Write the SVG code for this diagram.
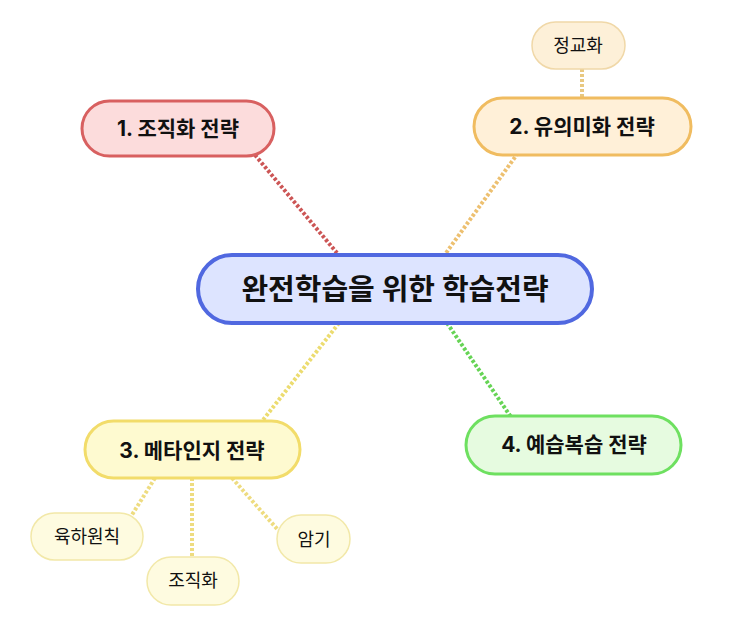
<svg xmlns="http://www.w3.org/2000/svg" width="743" height="626" viewBox="0 0 743 626">
<style>
text{font-family:Inter,"Noto Sans CJK KR",sans-serif;fill:#111;text-anchor:middle;dominant-baseline:central}
.m{font-weight:700;font-size:21px}
.s{font-size:18px}
.c line{stroke-width:4;stroke-dasharray:3 2}
</style>
<rect width="743" height="626" fill="#fff"/>
<g class="c" id="connectors">
<line x1="255" y1="155" x2="337" y2="253" stroke="#cc5555"/>
<line x1="518" y1="153" x2="446" y2="253" stroke="#edc070"/>
<line x1="339" y1="323" x2="263" y2="420" stroke="#ecdc70"/>
<line x1="447" y1="323" x2="511" y2="417" stroke="#66d455"/>
<line x1="582" y1="69" x2="582" y2="97" stroke="#e8c880"/>
<line x1="155" y1="478" x2="130" y2="518" stroke="#eedc80"/>
<line x1="192" y1="478" x2="192" y2="557" stroke="#eedc80"/>
<line x1="232" y1="478" x2="278" y2="530" stroke="#eedc80"/>
</g>
<g id="center"><rect x="198" y="255" width="394" height="68" rx="34" fill="#dde4ff" stroke="#5068e0" stroke-width="4"/><text x="395" y="289" style="font-weight:700;font-size:29px">완전학습을 위한 학습전략</text></g>
<g id="n1"><rect x="82" y="101" width="192" height="55" rx="27.5" fill="#fcdcdc" stroke="#d86060" stroke-width="3"/><text class="m" x="178" y="128">1. 조직화 전략</text></g>
<g id="n2"><rect x="474" y="98" width="217" height="57" rx="28.5" fill="#fff0d8" stroke="#f0bc60" stroke-width="3"/><text class="m" x="582" y="126">2. 유의미화 전략</text></g>
<g id="n2a"><rect x="532" y="22" width="93" height="47" rx="23.5" fill="#fdf0d8" stroke="#f0d8a8" stroke-width="1.5"/><text class="s" x="578" y="45">정교화</text></g>
<g id="n3"><rect x="85" y="421" width="215" height="57" rx="28.5" fill="#fefad0" stroke="#f2dc6a" stroke-width="3"/><text class="m" x="192" y="450">3. 메타인지 전략</text></g>
<g id="n4"><rect x="466" y="416" width="215" height="58" rx="29" fill="#e6fbe0" stroke="#6ee060" stroke-width="3"/><text class="m" x="574" y="444">4. 예습복습 전략</text></g>
<g id="n3a"><rect x="31" y="513" width="112" height="47" rx="23.5" fill="#fefbe0" stroke="#f2e8a8" stroke-width="1.5"/><text class="s" x="87" y="536">육하원칙</text></g>
<g id="n3b"><rect x="147" y="557" width="92" height="48" rx="24" fill="#fefbe0" stroke="#f2e8a8" stroke-width="1.5"/><text class="s" x="193" y="580">조직화</text></g>
<g id="n3c"><rect x="277" y="515" width="73" height="48" rx="24" fill="#fefbe0" stroke="#f2e8a8" stroke-width="1.5"/><text class="s" x="314" y="539">암기</text></g>
</svg>
